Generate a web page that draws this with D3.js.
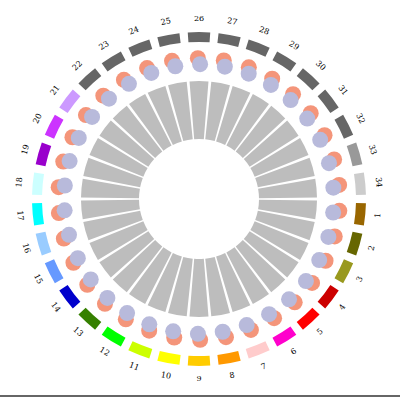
<!DOCTYPE html>
<html><head><meta charset="utf-8">
<script src="https://d3js.org/d3.v7.min.js"></script>
<style>body{margin:0;background:#fff}</style></head>
<body><svg id="c" width="400" height="400"></svg>
<script>
const categories = d3.range(1,35).map(String);
const segColors = ["#996600","#666600","#99991E","#CC0000","#FF0000","#FF00CC","#FFCCCC","#FF9900","#FFCC00","#FFFF00","#CCFF00","#00FF00","#358000","#0000CC","#6699FF","#99CCFF","#00FFFF","#CCFFFF","#9900CC","#CC33FF","#CC99FF","#666666","#666666","#666666","#666666","#666666","#666666","#666666","#666666","#666666","#666666","#666666","#999999","#CCCCCC"];
const barValues = categories.map(()=>1);
const seriesA = categories.map(()=>0.67); // salmon
const seriesB = categories.map(()=>0.54);  // lavender

const svg=d3.select("#c"), cx=199, cy=199;
const g=svg.append("g").attr("transform",`translate(${cx},${cy})`);
const n=categories.length, step=2*Math.PI/n;
const ang=d3.scaleBand().domain(categories).range([0,2*Math.PI]);
const offset=-(25)*step;
const A=c=>ang(c)+offset-step/2;

const rBar=d3.scaleLinear().domain([0,1]).range([60,118]);
g.selectAll(".bar").data(categories).join("path")
 .attr("d",(c,i)=>d3.arc()({innerRadius:rBar(0),outerRadius:rBar(barValues[i]),startAngle:A(c)+0.012,endAngle:A(c)+ang.bandwidth()-0.012}))
 .attr("fill","#bdbdbd");

g.selectAll(".seg").data(categories).join("path")
 .attr("d",c=>d3.arc()({innerRadius:157,outerRadius:167,startAngle:A(c)+0.025,endAngle:A(c)+ang.bandwidth()-0.025}))
 .attr("fill",(c,i)=>segColors[i]);

const rPt=d3.scaleLinear().domain([0,1]).range([110,156]);
function pts(vals,col,da){
 g.selectAll(null).data(categories).join("circle")
  .attr("cx",(c,i)=>{const a=A(c)+ang.bandwidth()/2+da;return rPt(vals[i])*Math.sin(a);})
  .attr("cy",(c,i)=>{const a=A(c)+ang.bandwidth()/2+da;return -rPt(vals[i])*Math.cos(a);})
  .attr("r",8).attr("fill",col);
}
pts(seriesA,"#F4957A",-0.008);
pts(seriesB,"#B8BADB",0.008);

g.selectAll(".lab").data(categories).join("text")
 .attr("transform",c=>{const a=A(c)+ang.bandwidth()/2;const deg=a*180/Math.PI;let d=((deg%360)+360)%360;const r=180;
   const x=r*Math.sin(a),y=-r*Math.cos(a);const rot=(d>90&&d<270)?d+180:d;return `translate(${x},${y}) rotate(${rot})`;})
 .attr("text-anchor","middle").attr("dominant-baseline","middle")
 .attr("font-family","DejaVu Serif").attr("font-size",8).attr("fill","#000").text(c=>c);

svg.append("line").attr("x1",0).attr("x2",400).attr("y1",396).attr("y2",396).attr("stroke","#666").attr("stroke-width",2);
</script></body></html>
